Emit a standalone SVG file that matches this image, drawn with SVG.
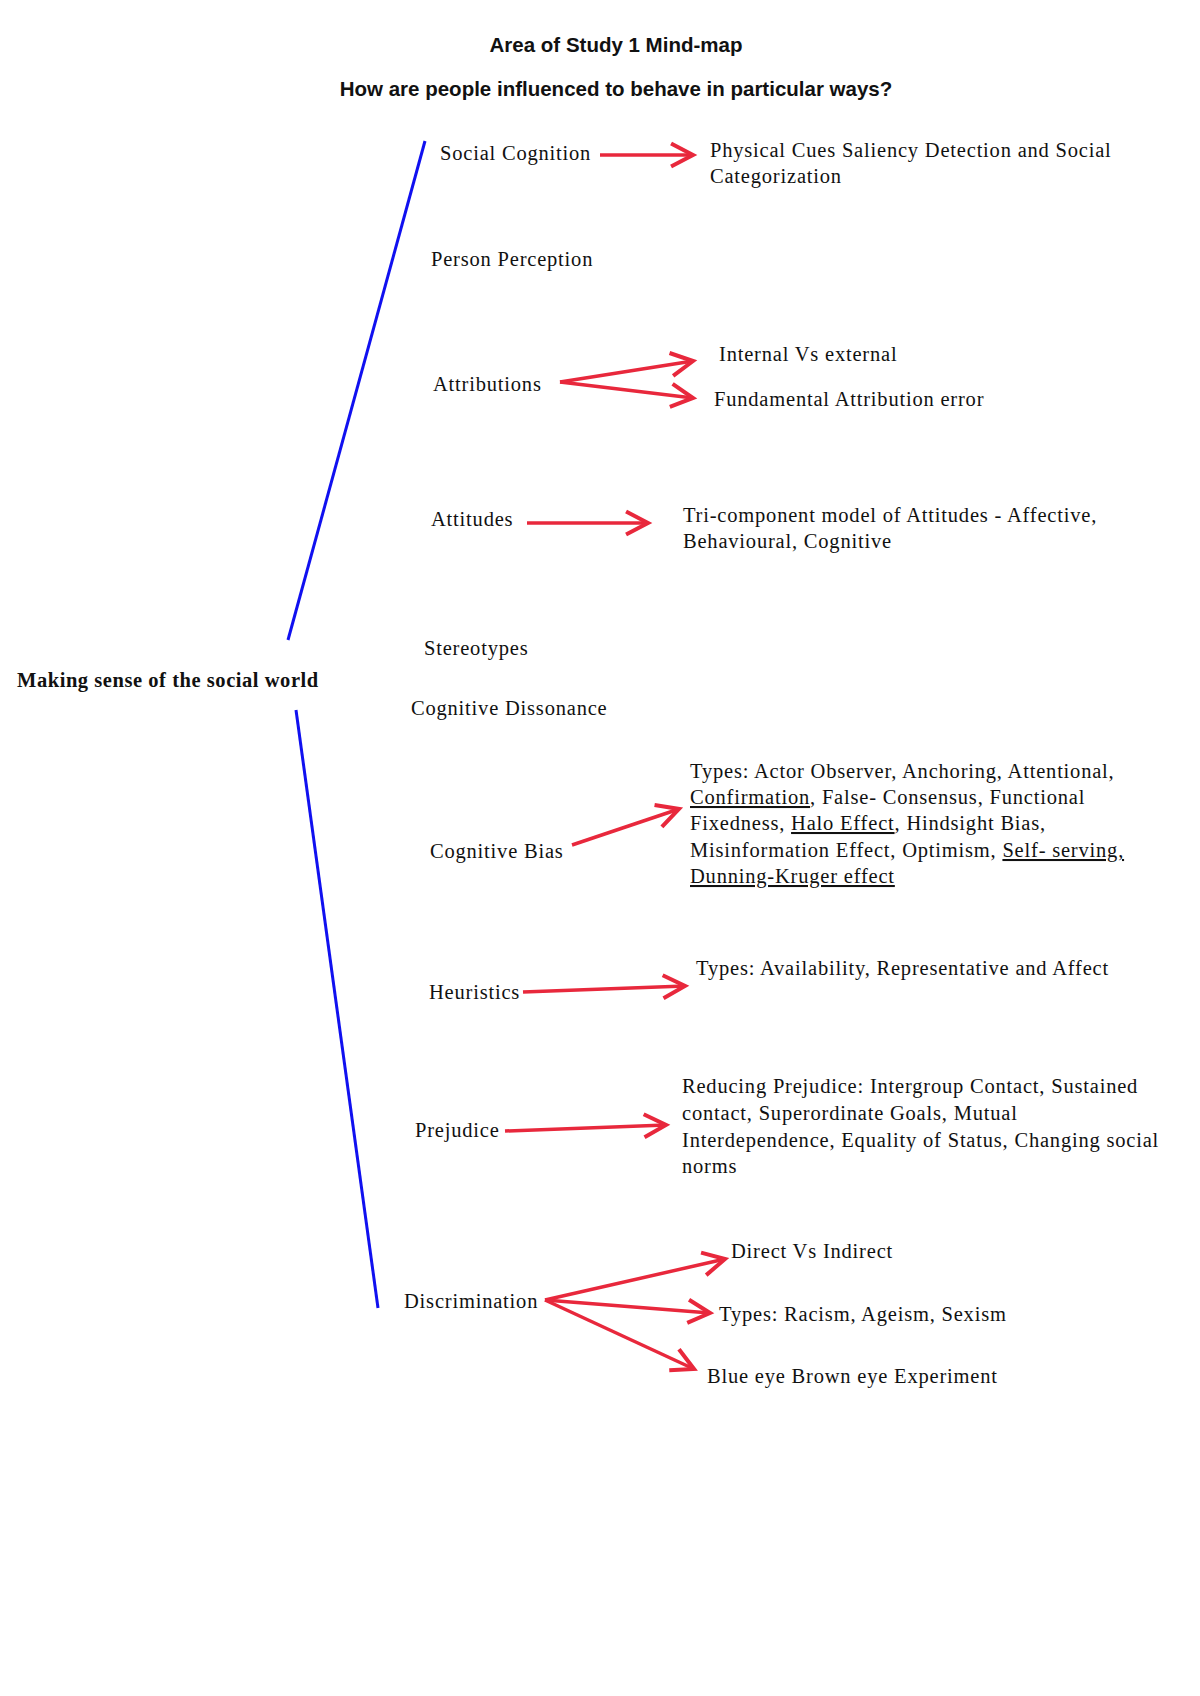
<svg xmlns="http://www.w3.org/2000/svg" width="1200" height="1696" viewBox="0 0 1200 1696">
<style>
.t{font-family:"Liberation Serif","DejaVu Serif",serif;font-size:20.5px;letter-spacing:0.8px;fill:#111}
.h{font-family:"Liberation Sans","DejaVu Sans",sans-serif;font-weight:bold;font-size:20.5px;fill:#111}
.b{font-family:"Liberation Serif","DejaVu Serif",serif;font-weight:bold;font-size:20.5px;letter-spacing:0.55px;fill:#111}
.u{text-decoration:underline}
.red{stroke:#E8283C;stroke-width:3.5;fill:none;stroke-linecap:butt;marker-end:url(#ah)}
.blue{stroke:#1010F0;stroke-width:3;fill:none}
</style>
<defs>
<marker id="ah" markerUnits="userSpaceOnUse" markerWidth="30" markerHeight="30" viewBox="-22 -13 26 26" refX="0" refY="0" orient="auto">
<path d="M-19,-10 L0,0 L-19,10" fill="none" stroke="#E8283C" stroke-width="3.5"/>
</marker>
</defs>
<rect width="1200" height="1696" fill="#fff"/>
<g id="title">
<text class="h" x="616" y="52" text-anchor="middle">Area of Study 1 Mind-map</text>
<text class="h" x="616" y="96" text-anchor="middle">How are people influenced to behave in particular ways?</text>
</g>
<g id="connectors">
<line class="blue" x1="425" y1="141" x2="288" y2="640"/>
<line class="blue" x1="296" y1="710" x2="378" y2="1308"/>
<line class="red" x1="600" y1="155" x2="693" y2="155"/>
<line class="red" x1="560" y1="382" x2="693" y2="361"/>
<line class="red" x1="560" y1="382" x2="693" y2="398"/>
<line class="red" x1="527" y1="523" x2="648" y2="523"/>
<line class="red" x1="572" y1="845" x2="679" y2="809"/>
<line class="red" x1="523" y1="992" x2="685" y2="986"/>
<line class="red" x1="505" y1="1131" x2="666" y2="1125"/>
<line class="red" x1="545" y1="1300" x2="725" y2="1259"/>
<line class="red" x1="545" y1="1300" x2="710" y2="1313"/>
<line class="red" x1="545" y1="1300" x2="694" y2="1369"/>
</g>
<g id="root"><text class="b" x="17" y="687">Making sense of the social world</text></g>
<g id="social-cognition"><text class="t" x="440" y="160">Social Cognition</text></g>
<g id="physical-cues"><text class="t" x="710" y="157">Physical Cues Saliency Detection and Social</text><text class="t" x="710" y="183">Categorization</text></g>
<g id="person-perception"><text class="t" x="431" y="266">Person Perception</text></g>
<g id="attributions"><text class="t" x="433" y="391">Attributions</text></g>
<g id="internal-external"><text class="t" x="719" y="361">Internal Vs external</text></g>
<g id="fae"><text class="t" x="714" y="406">Fundamental Attribution error</text></g>
<g id="attitudes"><text class="t" x="431" y="526">Attitudes</text></g>
<g id="tri-component"><text class="t" x="683" y="522">Tri-component model of Attitudes - Affective,</text><text class="t" x="683" y="548">Behavioural, Cognitive</text></g>
<g id="stereotypes"><text class="t" x="424" y="655">Stereotypes</text></g>
<g id="cognitive-dissonance"><text class="t" x="411" y="715">Cognitive Dissonance</text></g>
<g id="cognitive-bias"><text class="t" x="430" y="858">Cognitive Bias</text></g>
<g id="bias-types">
<text class="t" x="690" y="778">Types: Actor Observer, Anchoring, Attentional,</text>
<text class="t" x="690" y="804"><tspan class="u">Confirmation</tspan>, False- Consensus, Functional</text>
<text class="t" x="690" y="830">Fixedness, <tspan class="u">Halo Effect</tspan>, Hindsight Bias,</text>
<text class="t" x="690" y="857">Misinformation Effect, Optimism, <tspan class="u">Self- serving,</tspan></text>
<text class="t" x="690" y="883"><tspan class="u">Dunning-Kruger effect</tspan></text>
</g>
<g id="heuristics"><text class="t" x="429" y="999">Heuristics</text></g>
<g id="heuristic-types"><text class="t" x="696" y="975">Types: Availability, Representative and Affect</text></g>
<g id="prejudice"><text class="t" x="415" y="1137">Prejudice</text></g>
<g id="reducing-prejudice">
<text class="t" x="682" y="1093">Reducing Prejudice: Intergroup Contact, Sustained</text>
<text class="t" x="682" y="1120">contact, Superordinate Goals, Mutual</text>
<text class="t" x="682" y="1147">Interdependence, Equality of Status, Changing social</text>
<text class="t" x="682" y="1173">norms</text>
</g>
<g id="discrimination"><text class="t" x="404" y="1308">Discrimination</text></g>
<g id="direct-indirect"><text class="t" x="731" y="1258">Direct Vs Indirect</text></g>
<g id="discrimination-types"><text class="t" x="719" y="1321">Types: Racism, Ageism, Sexism</text></g>
<g id="blue-eye"><text class="t" x="707" y="1383">Blue eye Brown eye Experiment</text></g>
</svg>
